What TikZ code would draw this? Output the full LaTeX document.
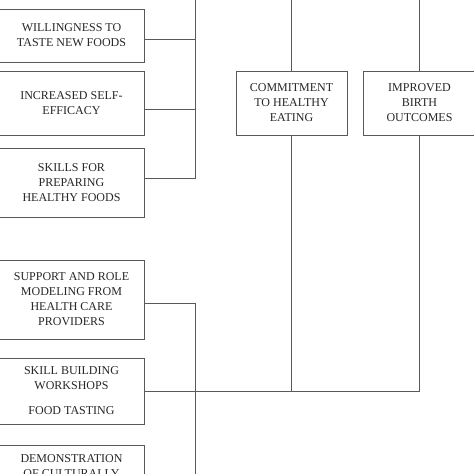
\documentclass[tikz,border=0pt]{standalone}
\usepackage{fontspec}
\setmainfont{Liberation Serif}
\usetikzlibrary{calc}

\tikzset{
	factor/.style = {draw = black!65, line width = 1pt, align = center, inner sep = 0pt,
		text = black!85, font = \fontsize{12}{15}\selectfont},
	link/.style = {draw = black!65, line width = 1pt}
}

\begin{document}
\begin{tikzpicture}[x = 1pt, y = -1pt]

	% Frame

	\useasboundingbox (0, 0) rectangle (474, 474);
	\clip (0, 0) rectangle (474, 474);

	% Upper boxes

	\node [factor, minimum width = 145, minimum height = 53] (will) at (71.5, 35.5) {WILLINGNESS TO\\TASTE NEW FOODS};
	\node [factor, minimum width = 145, minimum height = 64] (self) at (71.5, 103) {INCREASED SELF-\\EFFICACY};
	\node [factor, minimum width = 145, minimum height = 69] (skills) at (71.5, 182.5) {SKILLS FOR\\PREPARING\\HEALTHY FOODS};

	% Lower boxes

	\node [factor, minimum width = 145, minimum height = 79] (support) at (71.5, 299.5) {SUPPORT AND ROLE\\MODELING FROM\\HEALTH CARE\\PROVIDERS};
	\node [factor, minimum width = 145, minimum height = 66] (workshop) at (71.5, 391) {SKILL BUILDING\\WORKSHOPS\\[10pt]FOOD TASTING};
	\node [factor, minimum width = 145, inner ysep = 9pt, anchor = north] (demo) at (71.5, 445) {DEMONSTRATION\\OF CULTURALLY};

	% Outcome boxes

	\node [factor, minimum width = 111, minimum height = 64] (commit) at (291.5, 103) {COMMITMENT\\TO HEALTHY\\EATING};
	\node [factor, minimum width = 113, minimum height = 64] (birth) at (419.5, 103) {IMPROVED\\BIRTH\\OUTCOMES};

	% Connectors

	\coordinate (top) at (195, -5);
	\coordinate (bottom) at (195, 480);
	\coordinate (w1) at ([yshift = -3.5pt] will.east);
	\coordinate (s1) at ([yshift = -6pt] self.east);
	\coordinate (k1) at ([yshift = 4.5pt] skills.east);
	\coordinate (p1) at ([yshift = -3.5pt] support.east);

	\draw [link] (top) |- (k1);
	\draw [link] (w1) -- (w1 -| top);
	\draw [link] (s1) -- (s1 -| top);
	\draw [link] (p1) -| (bottom);

	\draw [link] (workshop.east) -- (workshop.east -| birth.south);
	\draw [link] (commit.south) -- (commit.south |- workshop.east);
	\draw [link] (birth.south) -- (birth.south |- workshop.east);
	\draw [link] (commit.north) -- (commit.north |- top);
	\draw [link] (birth.north) -- (birth.north |- top);

\end{tikzpicture}
\end{document}
